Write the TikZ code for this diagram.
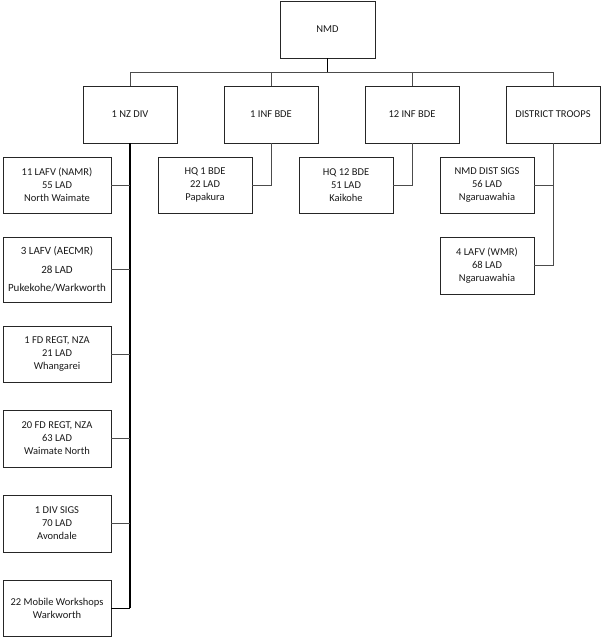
\documentclass[tikz,border=0pt]{standalone}
\usepackage{fontspec}
\setmainfont{Carlito}
\begin{document}
\begin{tikzpicture}[x=1pt,y=-1pt,
  box/.style={draw=black!85,line width=0.8pt,rectangle,align=center,inner sep=1pt,
    font=\fontsize{10.5}{13}\selectfont,text=black!90},
  topbox/.style={box,minimum width=94pt,minimum height=57pt},
  leafbox/.style={box,minimum width=94pt,minimum height=56pt},
  leftbox/.style={box,minimum width=108pt,minimum height=56pt},
  conn/.style={draw=black!70,line width=0.9pt},
  trunk/.style={draw=black,line width=1.4pt}]
\useasboundingbox (0,0) rectangle (604,642);
% top
\node[topbox,minimum width=95pt] (nmd) at (327.5,29.5) {NMD};
\node[topbox] (nzdiv) at (130,114.5) {1 NZ DIV};
\node[topbox] (infa) at (271,114.5) {1 INF BDE};
\node[topbox] (infb) at (412,114.5) {12 INF BDE};
\node[topbox] (dt) at (553,114.5) {DISTRICT TROOPS};
\coordinate (bus) at (327.5,72);
% leaves
\node[leftbox] (lafa) at (57,185) {11 LAFV (NAMR)\\55 LAD\\North Waimate};
\node[leftbox,minimum height=65pt,font=\fontsize{11}{18.5}\selectfont] (lafb) at (57,269.5) {3 LAFV (AECMR)\\28 LAD\\Pukekohe/Warkworth};
\node[leftbox] (fda) at (57,354) {1 FD REGT, NZA\\21 LAD\\Whangarei};
\node[leftbox,minimum height=57pt] (fdb) at (57,438.5) {20 FD REGT, NZA\\63 LAD\\Waimate North};
\node[leftbox,minimum height=57pt] (divsig) at (57,523.5) {1 DIV SIGS\\70 LAD\\Avondale};
\node[leftbox] (mw) at (57,608) {22 Mobile Workshops\\Warkworth};
\node[leafbox] (hqa) at (205,185) {HQ 1 BDE\\22 LAD\\Papakura};
\node[leafbox] (hqb) at (346,185) {HQ 12 BDE\\51 LAD\\Kaikohe};
\node[leafbox] (sigs) at (487,185) {NMD DIST SIGS\\56 LAD\\Ngaruawahia};
\node[leafbox,minimum height=57pt] (lafc) at (487,265.5) {4 LAFV (WMR)\\68 LAD\\Ngaruawahia};
% top connectors
\draw[draw=black,line width=0.9pt] (nmd.south) -- (bus);
\draw[conn] (nzdiv.north) -- (nzdiv.north |- bus) -- (dt.north |- bus) -- (dt.north);
\draw[conn] (infa.north) -- (infa.north |- bus);
\draw[conn] (infb.north) -- (infb.north |- bus);
% 1 NZ DIV trunk
\draw[trunk] (nzdiv.south) -- (nzdiv.south |- mw.east);
\foreach \n in {lafa,fda,divsig} \draw[conn] (\n.east) -- (\n.east -| nzdiv.south);
\draw[conn] ([yshift=0.5pt]lafb.east) -- ([yshift=0.5pt]lafb.east -| nzdiv.south);
\draw[conn] (fdb.east) -- (fdb.east -| nzdiv.south);
\draw[draw=black,line width=0.9pt] (mw.east) -- (mw.east -| nzdiv.south);
% brigades
\draw[conn] (infa.south) |- (hqa.east);
\draw[conn] (infb.south) |- (hqb.east);
% district troops
\draw[conn] (dt.south) |- (lafc.east);
\draw[conn] (sigs.east) -- (sigs.east -| dt.south);
\end{tikzpicture}
\end{document}
